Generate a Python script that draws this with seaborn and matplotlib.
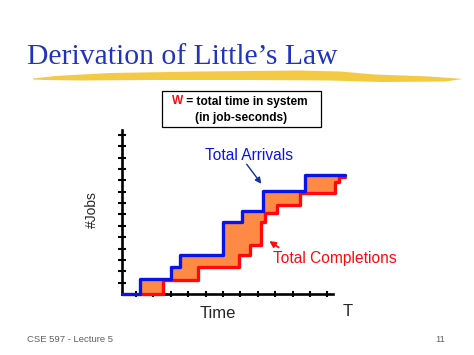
import numpy as np
import matplotlib
matplotlib.use("Agg")
import matplotlib.pyplot as plt
import seaborn as sns
from matplotlib.patches import Rectangle, Polygon

# ------------------------------
# Data (cumulative job counts)
# ------------------------------
arrival_t = [0.18, 1.23, 3.01, 3.53, 6.02, 7.07, 8.32, 10.72, 13.02]
arrival_n = [0, 1.32, 2.40, 3.43, 6.31, 7.33, 9.07, 10.45, 10.45]

completion_t = [1.23, 2.57, 4.58, 6.92, 7.55, 8.16, 8.44, 9.09, 10.43, 12.44, 12.69, 13.02]
completion_n = [0, 1.25, 2.40, 3.39, 4.31, 6.34, 7.10, 7.83, 8.89, 9.89, 10.33, 10.33]

y_ticks = list(range(1, 15))
x_ticks = list(range(1, 13))

title = "Derivation of Little\u2019s Law"
footer_left = "CSE 597 - Lecture 5"
footer_right = "11"

BLUE = "#0a14e6"
RED = "#ff0a0a"
FILL = "#ff8a45"

# ------------------------------
# Figure setup
# ------------------------------
sns.set_style("white")
plt.rcParams['font.family'] = ['Liberation Sans', 'DejaVu Sans']

W, H = 474, 355
fig = plt.figure(figsize=(W / 100, H / 100), dpi=100)

# main plot placed in pixel units
x0_px, y0_px = 121.7, 294.0
ux, uy = 17.4, 11.36
xmin, xmax, ymax = 0.18, 13.3, 14.6
ax = fig.add_axes([x0_px / W, (H - y0_px) / H,
                   (xmax - xmin) * ux / W, ymax * uy / H])
ax.set_xlim(xmin, xmax)
ax.set_ylim(0, ymax)
ax.patch.set_alpha(0)

# fill between arrivals and completions
bt, bn = np.array(arrival_t), np.array(arrival_n)
rt, rn = np.array(completion_t), np.array(completion_n)
grid = np.union1d(bt, rt)
grid = grid[(grid >= rt[0]) & (grid <= rt[-1])]
upper = bn[np.searchsorted(bt, grid, side='right') - 1]
lower = rn[np.searchsorted(rt, grid, side='right') - 1]
ax.fill_between(grid, lower, upper, step='post', color=FILL, lw=0, zorder=1)

sns.lineplot(x=completion_t, y=completion_n, drawstyle='steps-post',
             color=RED, lw=2.4, ax=ax, zorder=4, clip_on=False)
sns.lineplot(x=arrival_t, y=arrival_n, drawstyle='steps-post',
             color=BLUE, lw=2.4, ax=ax, zorder=5, clip_on=False)

for s in ['top', 'right']:
    ax.spines[s].set_visible(False)
ax.spines['left'].set_bounds(0, 14.4)
ax.spines['bottom'].set_bounds(xmin, 12.35)
for s in ['left', 'bottom']:
    ax.spines[s].set_linewidth(1.9)
    ax.spines[s].set_color('black')
    ax.spines[s].set_zorder(3)

ax.set_xticks(x_ticks)
ax.set_yticks(y_ticks)
ax.set_xticklabels([])
ax.set_yticklabels([])
ax.tick_params(axis='y', direction='inout', length=5.8, width=1.5, color='black', left=True)
ax.tick_params(axis='x', direction='inout', length=3.8, width=1.5, color='black', bottom=True)
ax.set_xlabel("")
ax.set_ylabel("")

# ------------------------------
# Overlay for slide decorations and text (pixel coords)
# ------------------------------
ov = fig.add_axes([0, 0, 1, 1], zorder=10)
ov.set_xlim(0, W)
ov.set_ylim(H, 0)
ov.axis('off')
ov.patch.set_alpha(0)

# yellow brush stroke under the title
stroke = [(33, 78.5), (55, 76), (110, 73), (200, 71.5), (300, 70.5), (340, 71.5),
          (375, 74.5), (430, 76.5), (463, 79), (445, 81.5), (380, 82),
          (330, 80.5), (250, 80), (150, 80), (80, 80.5), (45, 80), (33, 79.5)]
ov.add_patch(Polygon(stroke, closed=True, color="#f3c430", lw=0, alpha=0.9))

ov.text(27, 63.5, title, family=['Liberation Serif', 'DejaVu Serif'],
        fontsize=21.3, color="#2233c0", ha='left', va='baseline')

# definition box
ov.add_patch(Rectangle((162, 91), 159, 36, fill=False, ec='black', lw=0.9))
w_txt = ov.text(172, 101.5, "W", color=RED, fontsize=8.6, fontweight='bold',
                ha='left', va='center')
ov.annotate(" = total time in system", xy=(1, 0.5), xycoords=w_txt,
            fontsize=8.6, fontweight='bold', color='black', ha='left', va='center')
ov.text(241, 117.5, "(in job-seconds)", fontsize=8.6, fontweight='bold',
        color='black', ha='center', va='center')

# curve labels with arrows
ov.text(249, 155, "Total Arrivals", color=BLUE, fontsize=11.2, ha='center', va='center')
ov.annotate("", xy=(263, 186), xytext=(245, 162),
            arrowprops=dict(arrowstyle='-|>', color="#1030a0", lw=1.0,
                            mutation_scale=9))
ov.text(273, 258, "Total Completions", color=RED, fontsize=11.2, ha='left', va='center')
ov.annotate("", xy=(267, 239.5), xytext=(281, 249),
            arrowprops=dict(arrowstyle='-|>', color=RED, lw=1.3,
                            mutation_scale=9))

# axis labels
ov.text(92, 210, "#Jobs", rotation=90, fontsize=10, ha='center', va='center')
ov.text(218, 313, "Time", fontsize=12, ha='center', va='center')
ov.text(348, 311, "T", fontsize=12, ha='center', va='center')

# footer
ov.text(27, 340, footer_left, fontsize=6.8, color="#606060", ha='left', va='center')
ov.text(440, 340, footer_right, fontsize=6.8, color="#606060", ha='center', va='center')

fig.savefig("out.png", dpi=100)
